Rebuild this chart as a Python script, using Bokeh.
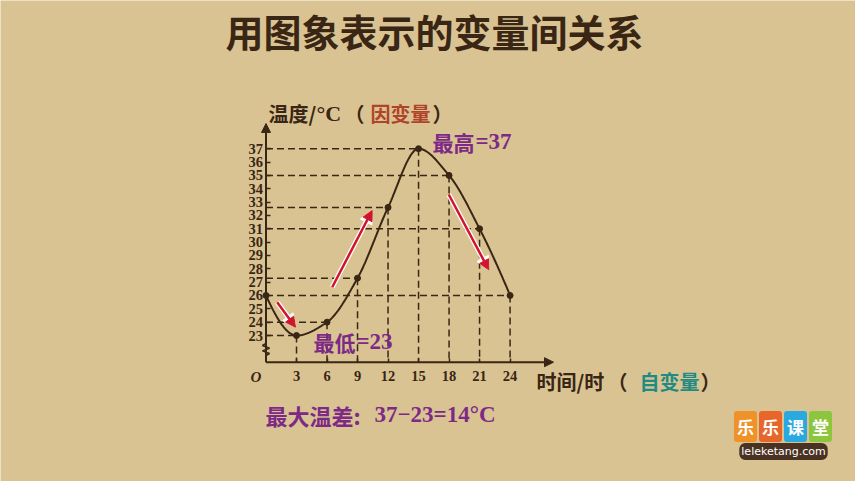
import numpy as np
from bokeh.plotting import figure
from bokeh.models import Label, Arrow, NormalHead, LinearAxis, FixedTicker, Range1d
from bokeh.embed import file_html
from bokeh.resources import INLINE

# ---- data ----
hours = [0, 3, 6, 9, 12, 15, 18, 21, 24]
temps = [26, 23, 24, 27.3, 32.6, 37, 35, 31, 26]
y_ticks = list(range(23, 38))
x_ticks = [3, 6, 9, 12, 15, 18, 21, 24]
axis_base = 21  # temperature value where the (broken) time axis sits

# ---- layout helpers ----
W, H = 855, 481
X0, SX = 265.5, 10.17   # px of hour 0, px per hour
Y23, SY = 335.0, 13.34  # px of 23 degrees, px per degree

def xv(px):
    return (px - X0) / SX

def yv(py):
    return 23 + (Y23 - py) / SY

BG = "#d9c392"
INK = "#3a2614"
PURPLE = "#7d2a86"
RED = "#d0142c"

p = figure(width=W, height=H,
           x_range=Range1d(xv(0), xv(W)), y_range=Range1d(yv(H), yv(0)),
           output_backend="svg", toolbar_location=None,
           x_axis_location=None, y_axis_location=None,
           min_border=0)
p.background_fill_color = BG
p.border_fill_color = BG
p.outline_line_color = None
p.xgrid.grid_line_color = None
p.ygrid.grid_line_color = None

# axes (ticks + labels)
common = dict(axis_line_color=None, major_tick_in=4, major_tick_out=0,
              major_tick_line_color=INK, major_tick_line_width=1.5,
              minor_tick_line_color=None,
              major_label_text_font="Liberation Serif",
              major_label_text_font_style="bold",
              major_label_text_font_size="14.5px",
              major_label_text_color=INK)
yaxis = LinearAxis(fixed_location=0, ticker=FixedTicker(ticks=y_ticks),
                   major_label_standoff=3, **common)
p.add_layout(yaxis, "left")
xaxis = LinearAxis(fixed_location=axis_base, ticker=FixedTicker(ticks=x_ticks),
                   major_label_standoff=9, **common)
p.add_layout(xaxis, "below")

# axis lines with arrowheads
p.add_layout(Arrow(end=NormalHead(size=9, fill_color=INK, line_color=INK),
                   x_start=0, y_start=axis_base, x_end=0, y_end=yv(123),
                   line_color=INK, line_width=2))
p.add_layout(Arrow(end=NormalHead(size=9, fill_color=INK, line_color=INK),
                   x_start=0, y_start=axis_base, x_end=xv(553), y_end=axis_base,
                   line_color=INK, line_width=2))

# axis break zigzag
zx = [0, -0.35, 0.35, -0.35, 0.35, 0]
zy = [22.4, 22.25, 22.05, 21.85, 21.65, 21.5]
p.line(zx, zy, line_color=INK, line_width=1.5)

# dashed guide lines
hx, hy = np.array(hours[1:], float), np.array(temps[1:], float)
p.segment(x0=np.zeros_like(hx), y0=hy, x1=hx, y1=hy,
          line_color=INK, line_width=1.5, line_dash="7 4")
p.segment(x0=hx, y0=hy, x1=hx, y1=np.full_like(hx, axis_base),
          line_color=INK, line_width=1.5, line_dash="7 4")

# smooth curve through the data points (monotone cubic / PCHIP)
xs_ = np.array(hours, float)
ys_ = np.array(temps, float)
h = np.diff(xs_)
d = np.diff(ys_) / h
m = np.zeros_like(ys_)
for k in range(1, len(xs_) - 1):
    if d[k - 1] * d[k] > 0:
        w1 = 2 * h[k] + h[k - 1]
        w2 = h[k] + 2 * h[k - 1]
        m[k] = (w1 + w2) / (w1 / d[k - 1] + w2 / d[k])
m[0] = ((2 * h[0] + h[1]) * d[0] - h[0] * d[1]) / (h[0] + h[1])
m[-1] = ((2 * h[-1] + h[-2]) * d[-1] - h[-1] * d[-2]) / (h[-1] + h[-2])
cx, cy = [], []
for k in range(len(h)):
    t = np.linspace(0, 1, 30)
    h00 = 2 * t**3 - 3 * t**2 + 1
    h10 = t**3 - 2 * t**2 + t
    h01 = -2 * t**3 + 3 * t**2
    h11 = t**3 - t**2
    cx.extend(xs_[k] + t * h[k])
    cy.extend(h00 * ys_[k] + h10 * h[k] * m[k] + h01 * ys_[k + 1] + h11 * h[k] * m[k + 1])
p.line(cx, cy, line_color=INK, line_width=2)
p.scatter(hours, temps, size=6, color=INK)

# red trend arrows
for (xs, ys, xe, ye) in [(1.10, 25.50, 2.90, 23.62),
                         (6.51, 26.62, 10.44, 32.37),
                         (17.97, 33.57, 21.91, 27.92)]:
    p.add_layout(Arrow(end=NormalHead(size=13, fill_color="white", line_color="white"),
                       x_start=xs, y_start=ys, x_end=xe, y_end=ye,
                       line_color="white", line_width=5))
    p.add_layout(Arrow(end=NormalHead(size=10, fill_color=RED, line_color=RED),
                       x_start=xs, y_start=ys, x_end=xe, y_end=ye,
                       line_color=RED, line_width=2.5))

CJK = "Noto Sans CJK SC"
SERIF = "Liberation Serif"

def lab(px, py, text, size, color, font=CJK, align="left", style="bold", **kw):
    p.add_layout(Label(x=xv(px), y=yv(py), text=text, text_font=font,
                       text_font_size=f"{size}px", text_font_style=style,
                       text_color=color, text_align=align,
                       text_baseline="middle", **kw))

# title
lab(434, 30, "用图象表示的变量间关系", 38, INK, align="center")

# axis titles
lab(268, 113, "温度/", 20, INK)
lab(316, 113, "°C", 22, INK, font=SERIF)
lab(344, 113, "（", 20, INK)
lab(370, 113, "因变量", 20, "#b0432a")
lab(432, 113, "）", 20, INK)
lab(536, 381, "时间/时", 20, INK)
lab(607, 381, "（", 20, INK)
lab(639, 381, "自变量", 20, "#1f8b82")
lab(700, 381, "）", 20, INK)
lab(250, 376, "O", 15, INK, font=SERIF, style="bold italic")

# annotations
lab(432, 141, "最高", 21, PURPLE)
lab(475, 141, "=37", 23, PURPLE, font=SERIF)
lab(313, 341, "最低", 21, PURPLE)
lab(356, 341, "=23", 23, PURPLE, font=SERIF)
lab(265, 414, "最大温差:", 22, PURPLE)
lab(374, 414, "37−23=14°C", 23, PURPLE, font=SERIF)

# logo
for px, ch, col in [(745, "乐", "#f0922a"), (770, "乐", "#e8662a"),
                    (795, "课", "#2aa8e0"), (820, "堂", "#8cc63f")]:
    lab(px, 426, ch, 17, "white", align="center",
        background_fill_color=col, padding=3, border_radius=3)
lab(783, 451, "leleketang.com", 11, "white", font="DejaVu Sans", align="center",
    style="normal", background_fill_color="#4a3222", padding=2, border_radius=6)

open("out.html", "w").write(file_html(p, INLINE))
